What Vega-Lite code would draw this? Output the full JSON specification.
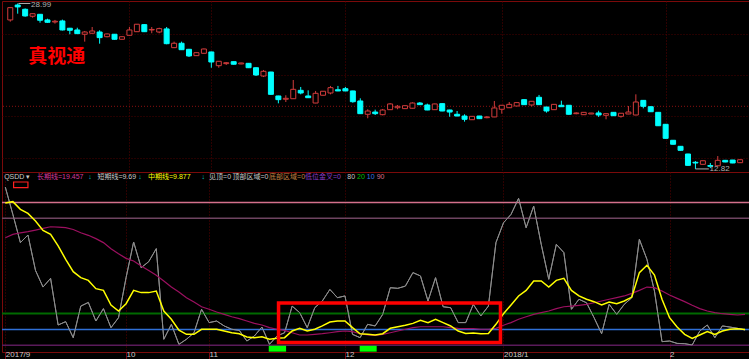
{
  "$schema": "https://vega.github.io/schema/vega-lite/v6.json",
  "background": "#000000",
  "padding": 0,
  "spacing": 0,
  "bounds": "flush",
  "config": {
    "view": {"stroke": "#7a0a0a", "strokeWidth": 1},
    "concat": {"spacing": 0},
    "font": "Liberation Sans, Noto Sans CJK SC",
    "axis": {"minExtent": 0, "maxExtent": 0, "offset": 0}
  },
  "datasets": {
    "k": [
      {"i":0,"o":27.38,"h":28.58,"l":27.21,"c":28.58},
      {"i":1,"o":28.84,"h":28.99,"l":27.99,"c":28.65},
      {"i":2,"o":28.42,"h":28.5,"l":27.7,"c":27.77},
      {"i":3,"o":27.74,"h":28.0,"l":27.6,"c":27.99},
      {"i":4,"o":27.93,"h":27.95,"l":27.11,"c":27.35},
      {"i":5,"o":27.38,"h":27.5,"l":27.1,"c":27.15},
      {"i":6,"o":27.18,"h":27.38,"l":27.02,"c":27.25},
      {"i":7,"o":27.28,"h":27.41,"l":26.35,"c":26.4},
      {"i":8,"o":26.57,"h":26.6,"l":25.98,"c":26.37},
      {"i":9,"o":26.4,"h":26.62,"l":26.0,"c":26.04},
      {"i":10,"o":25.98,"h":26.3,"l":25.26,"c":26.2},
      {"i":11,"o":26.08,"h":26.69,"l":26.05,"c":26.3},
      {"i":12,"o":26.2,"h":26.37,"l":25.06,"c":25.65},
      {"i":13,"o":25.74,"h":26.05,"l":25.68,"c":26.01},
      {"i":14,"o":25.98,"h":26.0,"l":25.45,"c":25.49},
      {"i":15,"o":25.49,"h":25.76,"l":25.47,"c":25.74},
      {"i":16,"o":25.88,"h":26.69,"l":25.86,"c":26.4},
      {"i":17,"o":26.23,"h":26.98,"l":26.2,"c":26.96},
      {"i":18,"o":26.92,"h":26.96,"l":26.2,"c":26.23},
      {"i":19,"o":26.4,"h":26.69,"l":26.08,"c":26.45},
      {"i":20,"o":26.2,"h":26.62,"l":26.08,"c":26.53},
      {"i":21,"o":26.5,"h":26.69,"l":25.0,"c":25.06},
      {"i":22,"o":24.67,"h":25.26,"l":24.63,"c":25.1},
      {"i":23,"o":25.1,"h":25.26,"l":24.45,"c":24.47},
      {"i":24,"o":24.51,"h":24.55,"l":23.76,"c":23.86},
      {"i":25,"o":23.89,"h":24.2,"l":23.87,"c":24.18},
      {"i":26,"o":24.12,"h":24.58,"l":24.1,"c":24.54},
      {"i":27,"o":24.25,"h":24.28,"l":22.71,"c":23.27},
      {"i":28,"o":22.91,"h":23.36,"l":22.71,"c":23.34},
      {"i":29,"o":23.11,"h":23.27,"l":22.98,"c":23.2},
      {"i":30,"o":23.3,"h":23.32,"l":23.02,"c":23.05},
      {"i":31,"o":23.08,"h":23.2,"l":23.05,"c":23.17},
      {"i":32,"o":23.14,"h":23.16,"l":22.68,"c":22.71},
      {"i":33,"o":22.71,"h":22.73,"l":21.9,"c":22.0},
      {"i":34,"o":21.9,"h":22.49,"l":21.8,"c":22.36},
      {"i":35,"o":22.29,"h":22.31,"l":20.08,"c":20.11},
      {"i":36,"o":19.95,"h":19.97,"l":19.23,"c":19.59},
      {"i":37,"o":19.63,"h":20.02,"l":19.36,"c":19.72},
      {"i":38,"o":19.68,"h":21.51,"l":19.66,"c":20.6},
      {"i":39,"o":20.5,"h":20.83,"l":20.11,"c":20.24},
      {"i":40,"o":19.95,"h":20.5,"l":19.76,"c":19.78},
      {"i":41,"o":19.26,"h":20.44,"l":19.24,"c":20.21},
      {"i":42,"o":20.02,"h":20.43,"l":20.0,"c":20.41},
      {"i":43,"o":20.24,"h":20.93,"l":20.11,"c":20.76},
      {"i":44,"o":20.56,"h":20.93,"l":20.42,"c":20.44},
      {"i":45,"o":20.66,"h":20.83,"l":20.42,"c":20.44},
      {"i":46,"o":20.44,"h":20.46,"l":19.29,"c":19.39},
      {"i":47,"o":19.46,"h":19.72,"l":18.2,"c":18.22},
      {"i":48,"o":18.16,"h":18.65,"l":17.77,"c":18.48},
      {"i":49,"o":18.38,"h":18.61,"l":18.09,"c":18.22},
      {"i":50,"o":18.12,"h":18.68,"l":18.06,"c":18.58},
      {"i":51,"o":18.61,"h":19.26,"l":18.58,"c":19.17},
      {"i":52,"o":18.8,"h":19.07,"l":18.65,"c":18.94},
      {"i":53,"o":18.71,"h":19.03,"l":18.69,"c":19.0},
      {"i":54,"o":18.75,"h":19.33,"l":18.73,"c":19.26},
      {"i":55,"o":19.26,"h":19.36,"l":19.07,"c":19.1},
      {"i":56,"o":19.07,"h":19.2,"l":18.56,"c":18.58},
      {"i":57,"o":18.61,"h":19.2,"l":18.58,"c":19.17},
      {"i":58,"o":19.2,"h":19.22,"l":18.46,"c":18.48},
      {"i":59,"o":18.58,"h":18.6,"l":17.92,"c":18.38},
      {"i":60,"o":18.16,"h":18.48,"l":17.97,"c":17.99},
      {"i":61,"o":17.99,"h":18.16,"l":17.44,"c":17.67},
      {"i":62,"o":17.63,"h":17.98,"l":17.6,"c":17.96},
      {"i":63,"o":17.99,"h":18.0,"l":17.7,"c":17.73},
      {"i":64,"o":17.83,"h":17.99,"l":17.77,"c":17.9},
      {"i":65,"o":17.9,"h":19.46,"l":17.88,"c":18.78},
      {"i":66,"o":18.65,"h":19.06,"l":18.22,"c":19.04},
      {"i":67,"o":18.8,"h":19.36,"l":18.78,"c":19.13},
      {"i":68,"o":18.97,"h":19.33,"l":18.95,"c":19.3},
      {"i":69,"o":19.59,"h":19.62,"l":19.08,"c":19.1},
      {"i":70,"o":19.07,"h":19.45,"l":18.87,"c":19.43},
      {"i":71,"o":19.82,"h":20.05,"l":19.08,"c":19.1},
      {"i":72,"o":18.87,"h":18.9,"l":18.32,"c":18.48},
      {"i":73,"o":18.61,"h":19.15,"l":18.58,"c":19.13},
      {"i":74,"o":19.04,"h":19.49,"l":18.88,"c":18.9},
      {"i":75,"o":19.04,"h":19.06,"l":18.14,"c":18.16},
      {"i":76,"o":18.22,"h":18.35,"l":18.16,"c":18.29},
      {"i":77,"o":18.12,"h":18.37,"l":18.1,"c":18.35},
      {"i":78,"o":18.19,"h":18.3,"l":18.17,"c":18.28},
      {"i":79,"o":18.29,"h":18.51,"l":17.9,"c":18.09},
      {"i":80,"o":18.06,"h":18.24,"l":17.67,"c":18.22},
      {"i":81,"o":18.35,"h":18.37,"l":18.0,"c":18.02},
      {"i":82,"o":17.96,"h":18.28,"l":17.83,"c":18.26},
      {"i":83,"o":18.19,"h":18.97,"l":18.17,"c":18.38},
      {"i":84,"o":18.09,"h":20.11,"l":18.07,"c":19.36},
      {"i":85,"o":19.52,"h":19.55,"l":18.74,"c":18.94},
      {"i":86,"o":18.9,"h":18.93,"l":18.39,"c":18.41},
      {"i":87,"o":18.35,"h":18.37,"l":17.02,"c":17.04},
      {"i":88,"o":17.18,"h":17.2,"l":15.79,"c":15.81},
      {"i":89,"o":15.62,"h":15.64,"l":15.21,"c":15.23},
      {"i":90,"o":15.03,"h":15.05,"l":14.62,"c":14.64},
      {"i":91,"o":14.28,"h":14.3,"l":13.15,"c":13.17},
      {"i":92,"o":13.47,"h":13.59,"l":12.82,"c":13.4},
      {"i":93,"o":13.27,"h":13.64,"l":13.25,"c":13.62},
      {"i":94,"o":13.15,"h":13.4,"l":12.9,"c":13.08},
      {"i":95,"o":13.13,"h":14.08,"l":13.1,"c":13.66},
      {"i":96,"o":13.66,"h":13.7,"l":13.47,"c":13.5},
      {"i":97,"o":13.69,"h":13.7,"l":13.38,"c":13.4},
      {"i":98,"o":13.43,"h":13.74,"l":13.41,"c":13.72}
    ],
    "ind": [
      {"i":0,"s":99.7,"m":89.6,"l":67.8},{"i":1,"s":82.5,"m":90.5,"l":69.9},{"i":2,"s":64.7,"m":85.7,"l":70.9},
      {"i":3,"s":69.5,"m":83.1,"l":71.6},{"i":4,"s":47.2,"m":78.3,"l":72.6},{"i":5,"s":36.7,"m":72.4,"l":73.7},
      {"i":6,"s":42.2,"m":69.9,"l":74.7},{"i":7,"s":12.8,"m":62.6,"l":74.5},{"i":8,"s":14.9,"m":54.2,"l":74.1},
      {"i":9,"s":4.8,"m":46.4,"l":73.0},{"i":10,"s":24.7,"m":42.6,"l":70.9},{"i":11,"s":27.0,"m":40.9,"l":69.3},
      {"i":12,"s":15.3,"m":35.7,"l":67.2},{"i":13,"s":23.1,"m":34.6,"l":64.7},{"i":14,"s":11.1,"m":25.4,"l":60.9},
      {"i":15,"s":17.4,"m":21.6,"l":57.7},{"i":16,"s":42.6,"m":26.2,"l":54.8},{"i":17,"s":65.1,"m":34.6,"l":53.1},
      {"i":18,"s":48.9,"m":33.2,"l":50.0},{"i":19,"s":52.7,"m":33.2,"l":47.2},{"i":20,"s":60.9,"m":34.2,"l":44.1},
      {"i":21,"s":3.8,"m":21.6,"l":40.5},{"i":22,"s":13.2,"m":16.4,"l":36.7},{"i":23,"s":0.6,"m":9.6,"l":33.6},
      {"i":24,"s":3.8,"m":6.9,"l":30.0},{"i":25,"s":7.9,"m":6.9,"l":27.3},{"i":26,"s":22.7,"m":10.1,"l":24.3},
      {"i":27,"s":14.3,"m":10.1,"l":22.7},{"i":28,"s":15.3,"m":10.1,"l":21.0},{"i":29,"s":12.2,"m":9.0,"l":19.5},
      {"i":30,"s":10.1,"m":7.9,"l":18.0},{"i":31,"s":9.4,"m":7.3,"l":16.8},{"i":32,"s":2.7,"m":5.2,"l":15.3},
      {"i":33,"s":5.9,"m":4.8,"l":13.8},{"i":34,"s":11.5,"m":5.4,"l":12.8},{"i":35,"s":0.6,"m":3.8,"l":11.1},
      {"i":36,"s":5.9,"m":4.4,"l":10.1},{"i":37,"s":7.9,"m":4.8,"l":9.4},{"i":38,"s":24.7,"m":9.0,"l":7.9},
      {"i":39,"s":20.6,"m":10.7,"l":6.5},{"i":40,"s":11.1,"m":9.0,"l":6.5},{"i":41,"s":23.7,"m":10.1,"l":6.9},
      {"i":42,"s":27.9,"m":12.2,"l":7.3},{"i":43,"s":35.2,"m":14.7,"l":7.9},{"i":44,"s":30.0,"m":15.3,"l":8.6},
      {"i":45,"s":31.1,"m":15.3,"l":9.0},{"i":46,"s":6.9,"m":11.1,"l":8.6},{"i":47,"s":4.8,"m":7.3,"l":7.3},
      {"i":48,"s":13.2,"m":6.9,"l":6.5},{"i":49,"s":12.2,"m":6.5,"l":6.3},{"i":50,"s":19.5,"m":7.3,"l":6.9},
      {"i":51,"s":36.3,"m":10.7,"l":7.9},{"i":52,"s":35.9,"m":11.7,"l":9.0},{"i":53,"s":37.3,"m":12.6,"l":10.1},
      {"i":54,"s":45.8,"m":13.8,"l":11.1},{"i":55,"s":43.7,"m":15.7,"l":11.7},{"i":56,"s":27.9,"m":14.3,"l":11.7},
      {"i":57,"s":42.6,"m":16.4,"l":11.7},{"i":58,"s":24.3,"m":14.3,"l":11.7},{"i":59,"s":23.7,"m":12.2,"l":11.1},
      {"i":60,"s":14.3,"m":9.0,"l":10.7},{"i":61,"s":14.3,"m":7.5,"l":10.5},{"i":62,"s":25.8,"m":7.7,"l":10.5},
      {"i":63,"s":18.5,"m":7.3,"l":10.1},{"i":64,"s":24.7,"m":7.5,"l":10.1},{"i":65,"s":64.7,"m":13.2,"l":10.7},
      {"i":66,"s":77.2,"m":19.9,"l":12.6},{"i":67,"s":82.5,"m":25.4,"l":14.3},{"i":68,"s":92.6,"m":31.1,"l":16.4},
      {"i":69,"s":74.1,"m":34.6,"l":18.0},{"i":70,"s":87.7,"m":40.5,"l":19.5},{"i":71,"s":63.6,"m":40.5,"l":20.6},
      {"i":72,"s":41.6,"m":36.7,"l":21.6},{"i":73,"s":63.6,"m":40.9,"l":23.1},{"i":74,"s":58.4,"m":42.2,"l":24.3},
      {"i":75,"s":22.7,"m":34.6,"l":24.7},{"i":76,"s":29.0,"m":31.1,"l":25.2},{"i":77,"s":26.8,"m":29.0,"l":25.8},
      {"i":78,"s":17.4,"m":27.5,"l":26.8},{"i":79,"s":7.3,"m":25.4,"l":27.9},{"i":80,"s":25.8,"m":27.3,"l":29.0},
      {"i":81,"s":19.5,"m":26.2,"l":30.0},{"i":82,"s":25.8,"m":27.9,"l":31.1},{"i":83,"s":30.0,"m":30.4,"l":32.7},
      {"i":84,"s":66.8,"m":45.8,"l":34.6},{"i":85,"s":54.2,"m":50.4,"l":36.7},{"i":86,"s":34.2,"m":44.3,"l":36.3},
      {"i":87,"s":2.3,"m":29.0,"l":34.2},{"i":88,"s":2.7,"m":17.4,"l":31.7},{"i":89,"s":1.2,"m":11.5,"l":29.6},
      {"i":90,"s":1.0,"m":6.9,"l":27.5},{"i":91,"s":0.2,"m":4.4,"l":25.2},{"i":92,"s":9.0,"m":6.5,"l":23.1},
      {"i":93,"s":12.8,"m":8.6,"l":21.6},{"i":94,"s":4.8,"m":6.9,"l":20.6},{"i":95,"s":12.2,"m":9.0,"l":19.9},
      {"i":96,"s":11.5,"m":10.1,"l":19.5},{"i":97,"s":10.7,"m":10.5,"l":19.1},{"i":98,"s":9.7,"m":9.9,"l":19.5}
    ],
    "hdr": [
      {"x":-0.15,"t":"QSDD","k":"w"},
      {"x":2.7,"t":"▾","k":"w"},
      {"x":4.2,"t":"长期线=19.457","k":"long"},
      {"x":11.0,"t":"↓","k":"arrow"},
      {"x":12.2,"t":"短期线=9.69","k":"w"},
      {"x":17.6,"t":"↓","k":"arrow"},
      {"x":18.9,"t":"中期线=9.877","k":"mid"},
      {"x":26.0,"t":"↓","k":"arrow"},
      {"x":27.0,"t":"见顶=0","k":"w"},
      {"x":30.1,"t":"顶部区域=0","k":"w"},
      {"x":34.95,"t":"底部区域=0","k":"bottom"},
      {"x":39.7,"t":"低位金叉=0","k":"gold"},
      {"x":45.3,"t":"80","k":"w"},
      {"x":46.6,"t":"20","k":"g20"},
      {"x":47.9,"t":"10","k":"b10"},
      {"x":49.2,"t":"90","k":"p90"}
    ]
  },
  "vconcat": [
    {
      "width": 749,
      "height": 171,
      "layer": [
        {
          "data": {"name": "k"},
          "mark": {"type": "rule", "strokeWidth": 1},
          "encoding": {
            "x": {"field": "i", "type": "quantitative", "scale": {"domain": [-0.437, 98.79], "nice": false, "zero": false},
              "axis": {"values": [16, 27, 45, 66, 88], "labels": false, "ticks": false, "domain": false, "title": null, "grid": true, "gridColor": "#5a0000", "gridDash": [1, 2], "gridWidth": 1}},
            "y": {"field": "l", "type": "quantitative", "scale": {"domain": [12.52, 29.23], "nice": false, "zero": false},
              "axis": {"values": [28.06, 26.04, 24.02, 22.0, 19.98, 17.96, 15.94, 13.92], "labels": false, "ticks": false, "domain": false, "title": null, "grid": true, "gridColor": "#4a0000", "gridDash": [1, 2], "gridWidth": 1}},
            "y2": {"field": "h"},
            "color": {"condition": {"test": "datum.c >= datum.o", "value": "#d23c3c"}, "value": "#00ffff"}
          }
        },
        {
          "data": {"values": [{}]},
          "mark": {"type": "rule", "color": "#8a1010", "strokeDash": [1, 2], "strokeWidth": 1},
          "encoding": {"y": {"datum": 18.94, "type": "quantitative"}}
        },
        {
          "data": {"name": "k"},
          "mark": {"type": "bar", "size": 5, "strokeWidth": 1},
          "encoding": {
            "x": {"field": "i", "type": "quantitative"},
            "y": {"field": "o", "type": "quantitative"},
            "y2": {"field": "c"},
            "fill": {"condition": {"test": "datum.c >= datum.o", "value": "#000000"}, "value": "#00ffff"},
            "stroke": {"condition": {"test": "datum.c >= datum.o", "value": "#d23c3c"}, "value": "#00ffff"}
          }
        },
        {
          "data": {"values": [{"a": 1.1, "b": 2.7, "p": 28.99}, {"a": 92, "b": 93.8, "p": 12.82}]},
          "mark": {"type": "rule", "color": "#b0b0b0", "strokeWidth": 1},
          "encoding": {
            "x": {"field": "a", "type": "quantitative"},
            "x2": {"field": "b"},
            "y": {"field": "p", "type": "quantitative"}
          }
        },
        {
          "data": {"values": [{"a": 2.8, "p": 29.2, "t": "28.99"}]},
          "mark": {"type": "text", "align": "left", "baseline": "top", "fontSize": 8, "color": "#b0b0b0"},
          "encoding": {
            "x": {"field": "a", "type": "quantitative"},
            "y": {"field": "p", "type": "quantitative"},
            "text": {"field": "t"}
          }
        },
        {
          "data": {"values": [{"a": 93.9, "p": 12.82, "t": "12.82"}]},
          "mark": {"type": "text", "align": "left", "baseline": "middle", "fontSize": 8, "color": "#b0b0b0"},
          "encoding": {
            "x": {"field": "a", "type": "quantitative"},
            "y": {"field": "p", "type": "quantitative"},
            "text": {"field": "t"}
          }
        },
        {
          "data": {"values": [{"a": 2.4, "p": 23.76, "t": "真视通"}]},
          "mark": {"type": "text", "align": "left", "baseline": "middle", "fontSize": 19, "fontWeight": "bold", "font": "Noto Sans CJK SC", "color": "#ff0000"},
          "encoding": {
            "x": {"field": "a", "type": "quantitative"},
            "y": {"field": "p", "type": "quantitative"},
            "text": {"field": "t"}
          }
        }
      ]
    },
    {
      "width": 749,
      "height": 180,
      "layer": [
        {
          "data": {"name": "ind"},
          "mark": {"type": "line", "color": "#8c8c8c", "strokeWidth": 1},
          "encoding": {
            "x": {"field": "i", "type": "quantitative", "scale": {"domain": [-0.437, 98.79], "nice": false, "zero": false},
              "axis": {"values": [0, 16, 27, 45, 66, 88], "title": null, "domain": false, "grid": true, "gridColor": "#5a0000", "gridDash": [1, 2],
                "ticks": true, "tickSize": 8, "tickColor": "#7a0a0a", "labelColor": "#c8c8c8", "labelFontSize": 8, "labelAlign": "left", "labelBaseline": "top",
                "labelPadding": -9.5, "labelDx": 2, "labelFlush": false, "labelOverlap": false,
                "labelExpr": "datum.value == 0 ? '2017/9' : datum.value == 16 ? '10' : datum.value == 27 ? '11' : datum.value == 45 ? '12' : datum.value == 66 ? '2018/1' : '2'"}},
            "y": {"field": "s", "type": "quantitative", "scale": {"domain": [-4.22, 109.2], "nice": false, "zero": false}, "axis": null}
          }
        },
        {
          "data": {"values": [{}]},
          "mark": {"type": "rule", "color": "#d4708c", "strokeWidth": 1.5},
          "encoding": {"y": {"datum": 90, "type": "quantitative"}}
        },
        {
          "data": {"values": [{}]},
          "mark": {"type": "rule", "color": "#6e4460", "strokeWidth": 1.5},
          "encoding": {"y": {"datum": 80, "type": "quantitative"}}
        },
        {
          "data": {"values": [{}]},
          "mark": {"type": "rule", "color": "#006a00", "strokeWidth": 2},
          "encoding": {"y": {"datum": 20, "type": "quantitative"}}
        },
        {
          "data": {"values": [{}]},
          "mark": {"type": "rule", "color": "#2f6fd6", "strokeWidth": 1.5},
          "encoding": {"y": {"datum": 10, "type": "quantitative"}}
        },
        {
          "data": {"values": [{}]},
          "mark": {"type": "rule", "color": "#5a1a5a", "strokeWidth": 1.5},
          "encoding": {"y": {"datum": 0, "type": "quantitative"}}
        },
        {
          "data": {"name": "ind"},
          "mark": {"type": "line", "color": "#8c8c8c", "strokeWidth": 1},
          "encoding": {
            "x": {"field": "i", "type": "quantitative"},
            "y": {"field": "s", "type": "quantitative"}
          }
        },
        {
          "data": {"name": "ind"},
          "mark": {"type": "line", "color": "#9c1060", "strokeWidth": 1.2},
          "encoding": {
            "x": {"field": "i", "type": "quantitative"},
            "y": {"field": "l", "type": "quantitative"}
          }
        },
        {
          "data": {"name": "ind"},
          "mark": {"type": "line", "color": "#ffff00", "strokeWidth": 1.5},
          "encoding": {
            "x": {"field": "i", "type": "quantitative"},
            "y": {"field": "m", "type": "quantitative"}
          }
        },
        {
          "data": {"values": [{"a": 36.2, "b": 65.6, "lo": 1.8, "hi": 26.6}]},
          "mark": {"type": "rect", "filled": false, "stroke": "#ff0000", "strokeWidth": 3.5},
          "encoding": {
            "x": {"field": "a", "type": "quantitative"},
            "x2": {"field": "b"},
            "y": {"field": "lo", "type": "quantitative"},
            "y2": {"field": "hi"}
          }
        },
        {
          "data": {"values": [{"a": 34.9, "b": 37.2}, {"a": 46.95, "b": 49.2}]},
          "mark": {"type": "rect", "color": "#00ff00"},
          "encoding": {
            "x": {"field": "a", "type": "quantitative"},
            "x2": {"field": "b"},
            "y": {"datum": -0.3, "type": "quantitative"},
            "y2": {"datum": -4.0}
          }
        },
        {
          "data": {"values": [{"a": 1.1, "b": 3.0, "lo": 99.4, "hi": 102.9}]},
          "mark": {"type": "rect", "filled": false, "stroke": "#ff2020", "strokeWidth": 1.2},
          "encoding": {
            "x": {"field": "a", "type": "quantitative"},
            "x2": {"field": "b"},
            "y": {"field": "lo", "type": "quantitative"},
            "y2": {"field": "hi"}
          }
        },
        {
          "data": {"name": "hdr"},
          "mark": {"type": "text", "align": "left", "baseline": "middle", "fontSize": 7},
          "encoding": {
            "x": {"field": "x", "type": "quantitative"},
            "y": {"datum": 105.8, "type": "quantitative"},
            "text": {"field": "t"},
            "color": {"field": "k", "type": "nominal", "legend": null,
              "scale": {"domain": ["w", "long", "arrow", "mid", "bottom", "gold", "g20", "b10", "p90"],
                        "range": ["#c8c8c8", "#d0389c", "#00c8c8", "#ffff00", "#c08040", "#8a3cc8", "#00c000", "#3c78e0", "#d4708c"]}}
          }
        }
      ]
    }
  ]
}
